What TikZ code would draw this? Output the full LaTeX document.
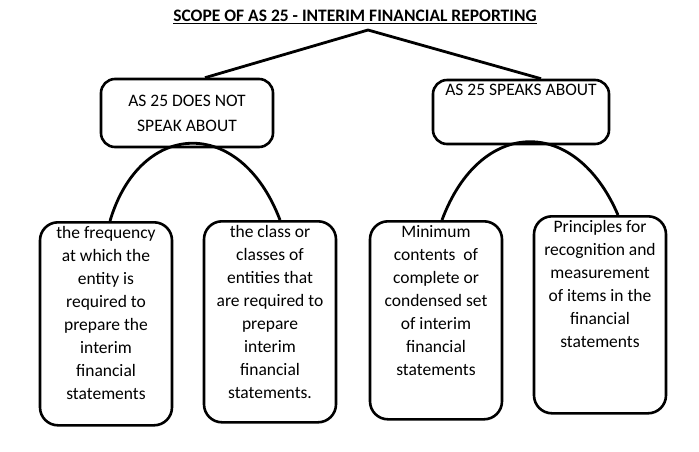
\documentclass[tikz,border=0pt]{standalone}
\usepackage{fontspec}
\setmainfont{Carlito}
\usetikzlibrary{positioning}

\newcommand{\leaftext}[2]{\parbox[t][#1][t]{124pt}{\centering #2}}

\tikzset{
    headbox/.style={draw, line width=2.6pt, rounded corners=14pt, minimum width=172pt, minimum height=68pt, font=\fontsize{17.5}{25}\selectfont, align=center},
    leafbox/.style={draw, line width=2.6pt, rounded corners=18pt, inner sep=4pt, font=\fontsize{17.5}{23}\selectfont, anchor=north},
    link/.style={line width=2.8pt}
}

\begin{document}
\begin{tikzpicture}[x=1pt, y=-1pt]
    \useasboundingbox (0,0) rectangle (699,451);

    \node [font=\bfseries\fontsize{17.5}{20}\selectfont] (title) at (355,17) {\underline{SCOPE OF AS 25 - INTERIM FINANCIAL REPORTING}};
    \coordinate (apex) at (368,30);

    \node [headbox] (notabout) at (187,113) {AS 25 DOES NOT\\SPEAK ABOUT};
    \node [headbox, minimum width=176pt, minimum height=64pt] (about) at (521,112) {AS 25 SPEAKS ABOUT\\[20pt]};

    \draw [link] ([xshift=18pt]notabout.north) -- (apex) -- ([xshift=20pt]about.north);

    \node [leafbox] (freq) at (106,221) {\leaftext{195pt}{the frequency\\at which the\\entity is\\required to\\prepare the\\interim\\financial\\statements}};
    \node [leafbox] (class) at (270,220) {\leaftext{193pt}{the class or\\classes of\\entities that\\are required to\\prepare\\interim\\financial\\statements.}};
    \node [leafbox] (mincont) at (436,220) {\leaftext{190pt}{Minimum\\contents~ of\\complete or\\condensed set\\of interim\\financial\\statements}};
    \node [leafbox] (princ) at (600,215) {\leaftext{189pt}{Principles for\\recognition and\\measurement\\of items in the\\financial\\statements}};

    \draw [link] ([xshift=4pt]freq.north) .. controls (140,120) and (240,115) .. ([xshift=10pt]class.north);
    \draw [link] ([xshift=6pt]mincont.north) .. controls (480,118) and (575,115) .. ([xshift=18pt]princ.north);
\end{tikzpicture}
\end{document}
